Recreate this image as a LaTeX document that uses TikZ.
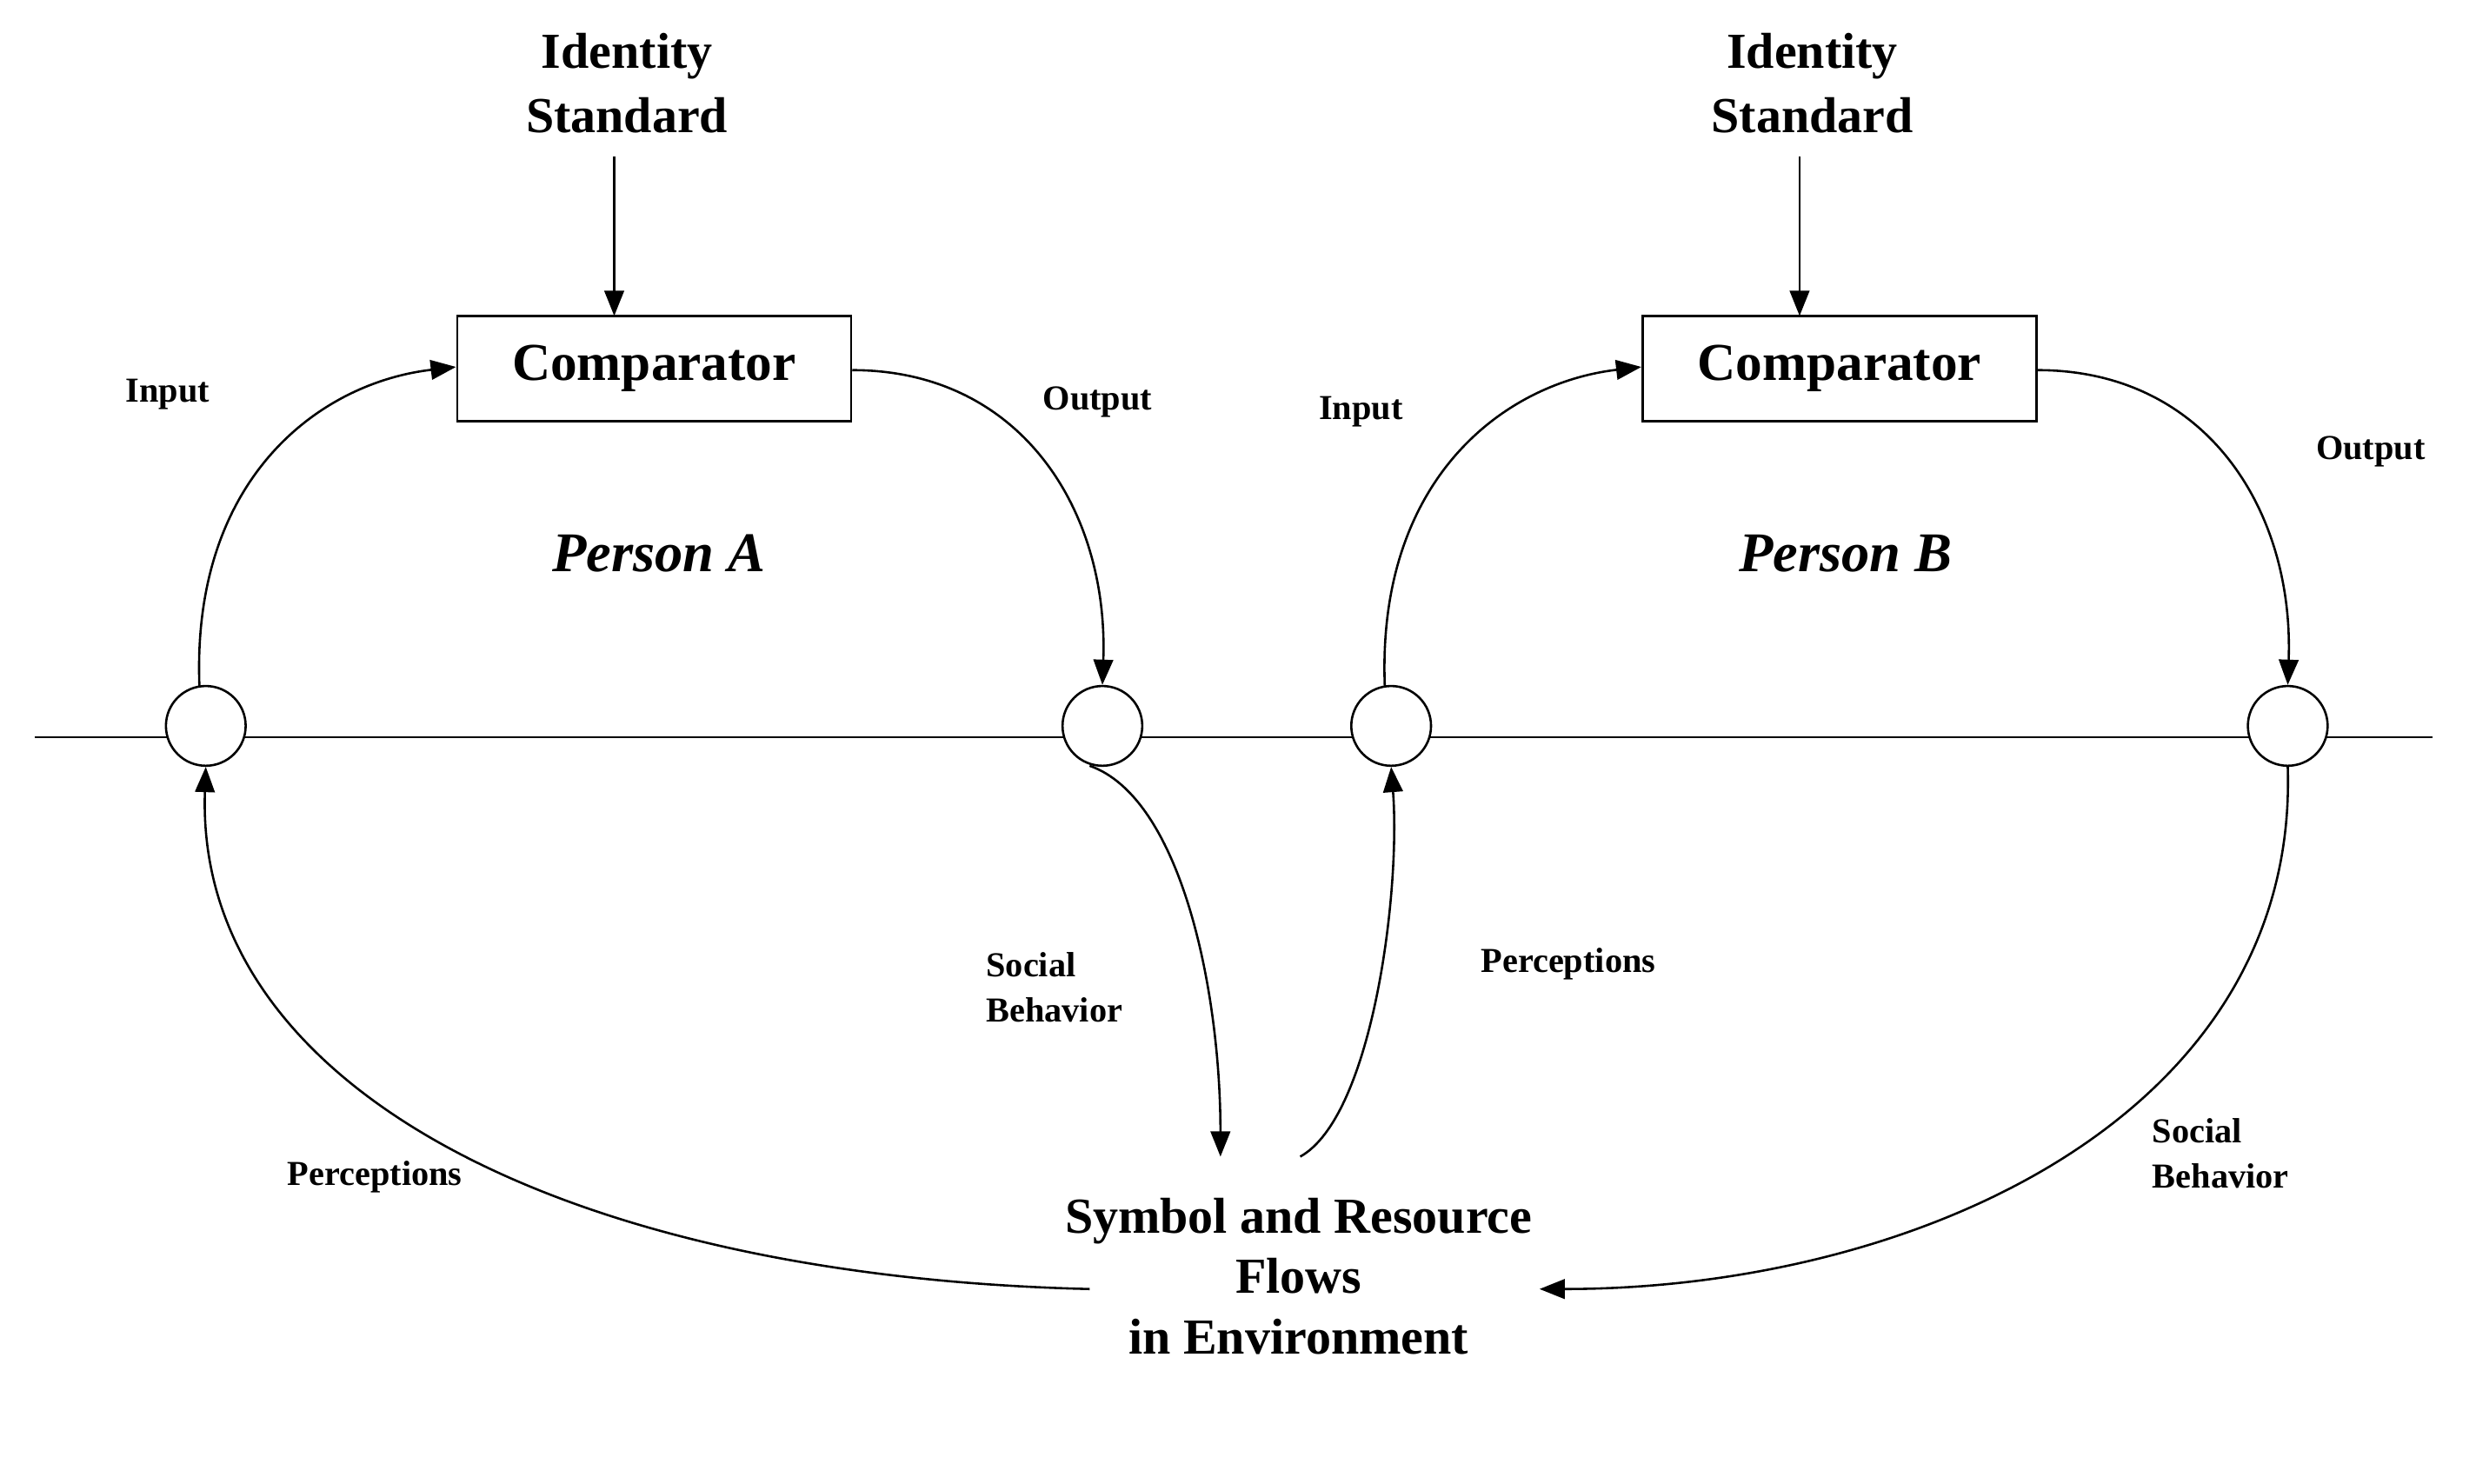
\documentclass[tikz,border=0pt]{standalone}
\usepackage{fontspec}
\setmainfont{Liberation Serif}
\usetikzlibrary{arrows.meta}
\begin{document}
\begin{tikzpicture}[x=0.02cm,y=-0.02cm,
  big/.style={font=\fontsize{18}{23}\selectfont\bfseries,align=center},
  small/.style={font=\fontsize{12.5}{16}\selectfont\bfseries,align=left},
  box/.style={draw,thick,minimum width=4.94cm,minimum height=1.32cm,font=\fontsize{19}{23}\selectfont\bfseries},
  circ/.style={draw,thick,circle,minimum size=1cm,inner sep=0pt},
  arr/.style={thick,-{Triangle[length=9pt,width=7pt]}},
  ln/.style={thick}]
\useasboundingbox (0,0) rectangle (1552,930);
\node[big] (isA) at (393,52) {Identity\\Standard};
\node[big] (isB) at (1136,52) {Identity\\Standard};
\node[box] (cA) at (410,231) {Comparator};
\node[box] (cB) at (1153,231) {Comparator};
\coordinate (a1) at (385,98); \coordinate (a2) at (1128,98);
\draw[arr] (a1) -- (385,198);
\draw[arr] (a2) -- (1128,198);
\coordinate (L) at (22,462); \coordinate (R) at (1525,462);
\draw[ln] (L) -- (R);
\node[circ,fill=white] (p1) at (129,455) {};
\node[circ,fill=white] (p2) at (691,455) {};
\node[circ,fill=white] (p3) at (872,455) {};
\node[circ,fill=white] (p4) at (1434,455) {};
\node[big,font=\fontsize{20}{24}\selectfont\bfseries\itshape] (pA) at (413,347) {Person A};
\node[big,font=\fontsize{20}{24}\selectfont\bfseries\itshape] (pB) at (1157,347) {Person B};
\node[small] (inA) at (105,247) {Input};
\node[small] (outA) at (688,252) {Output};
\node[small] (inB) at (853,258) {Input};
\node[small] (outB) at (1486,283) {Output};
\node[small,anchor=west] (sbA) at (612,619) {Social\\Behavior};
\node[small] (perB) at (983,604) {Perceptions};
\node[small] (perA) at (235,738) {Perceptions};
\node[small,anchor=west] (sbB) at (1343,723) {Social\\Behavior};
\node[big,font=\fontsize{18}{21.5}\selectfont\bfseries] (env) at (814,800) {Symbol and Resource\\Flows\\in Environment};
% input/output loops
\draw[arr] (125,430) .. controls (120,300) and (200,240) .. (cA.west|-0,230);
\draw[arr] (cA.east|-0,232) .. controls (640,232) and (695,320) .. (p2.north);
\draw[arr] (868,430) .. controls (863,300) and (943,240) .. (cB.west|-0,230);
\draw[arr] (cB.east|-0,232) .. controls (1383,232) and (1438,320) .. (p4.north);
% lower
\draw[arr] (683,480) .. controls (740,500) and (765,620) .. (765,725);
\draw[arr] (815,725) .. controls (860,700) and (878,560) .. (p3.south);
\draw[arr] (683,808) .. controls (350,800) and (122,680) .. (p1.south);
\draw[arr] (p4.south) .. controls (1441,700) and (1200,808) .. (965,808);
\end{tikzpicture}
\end{document}
